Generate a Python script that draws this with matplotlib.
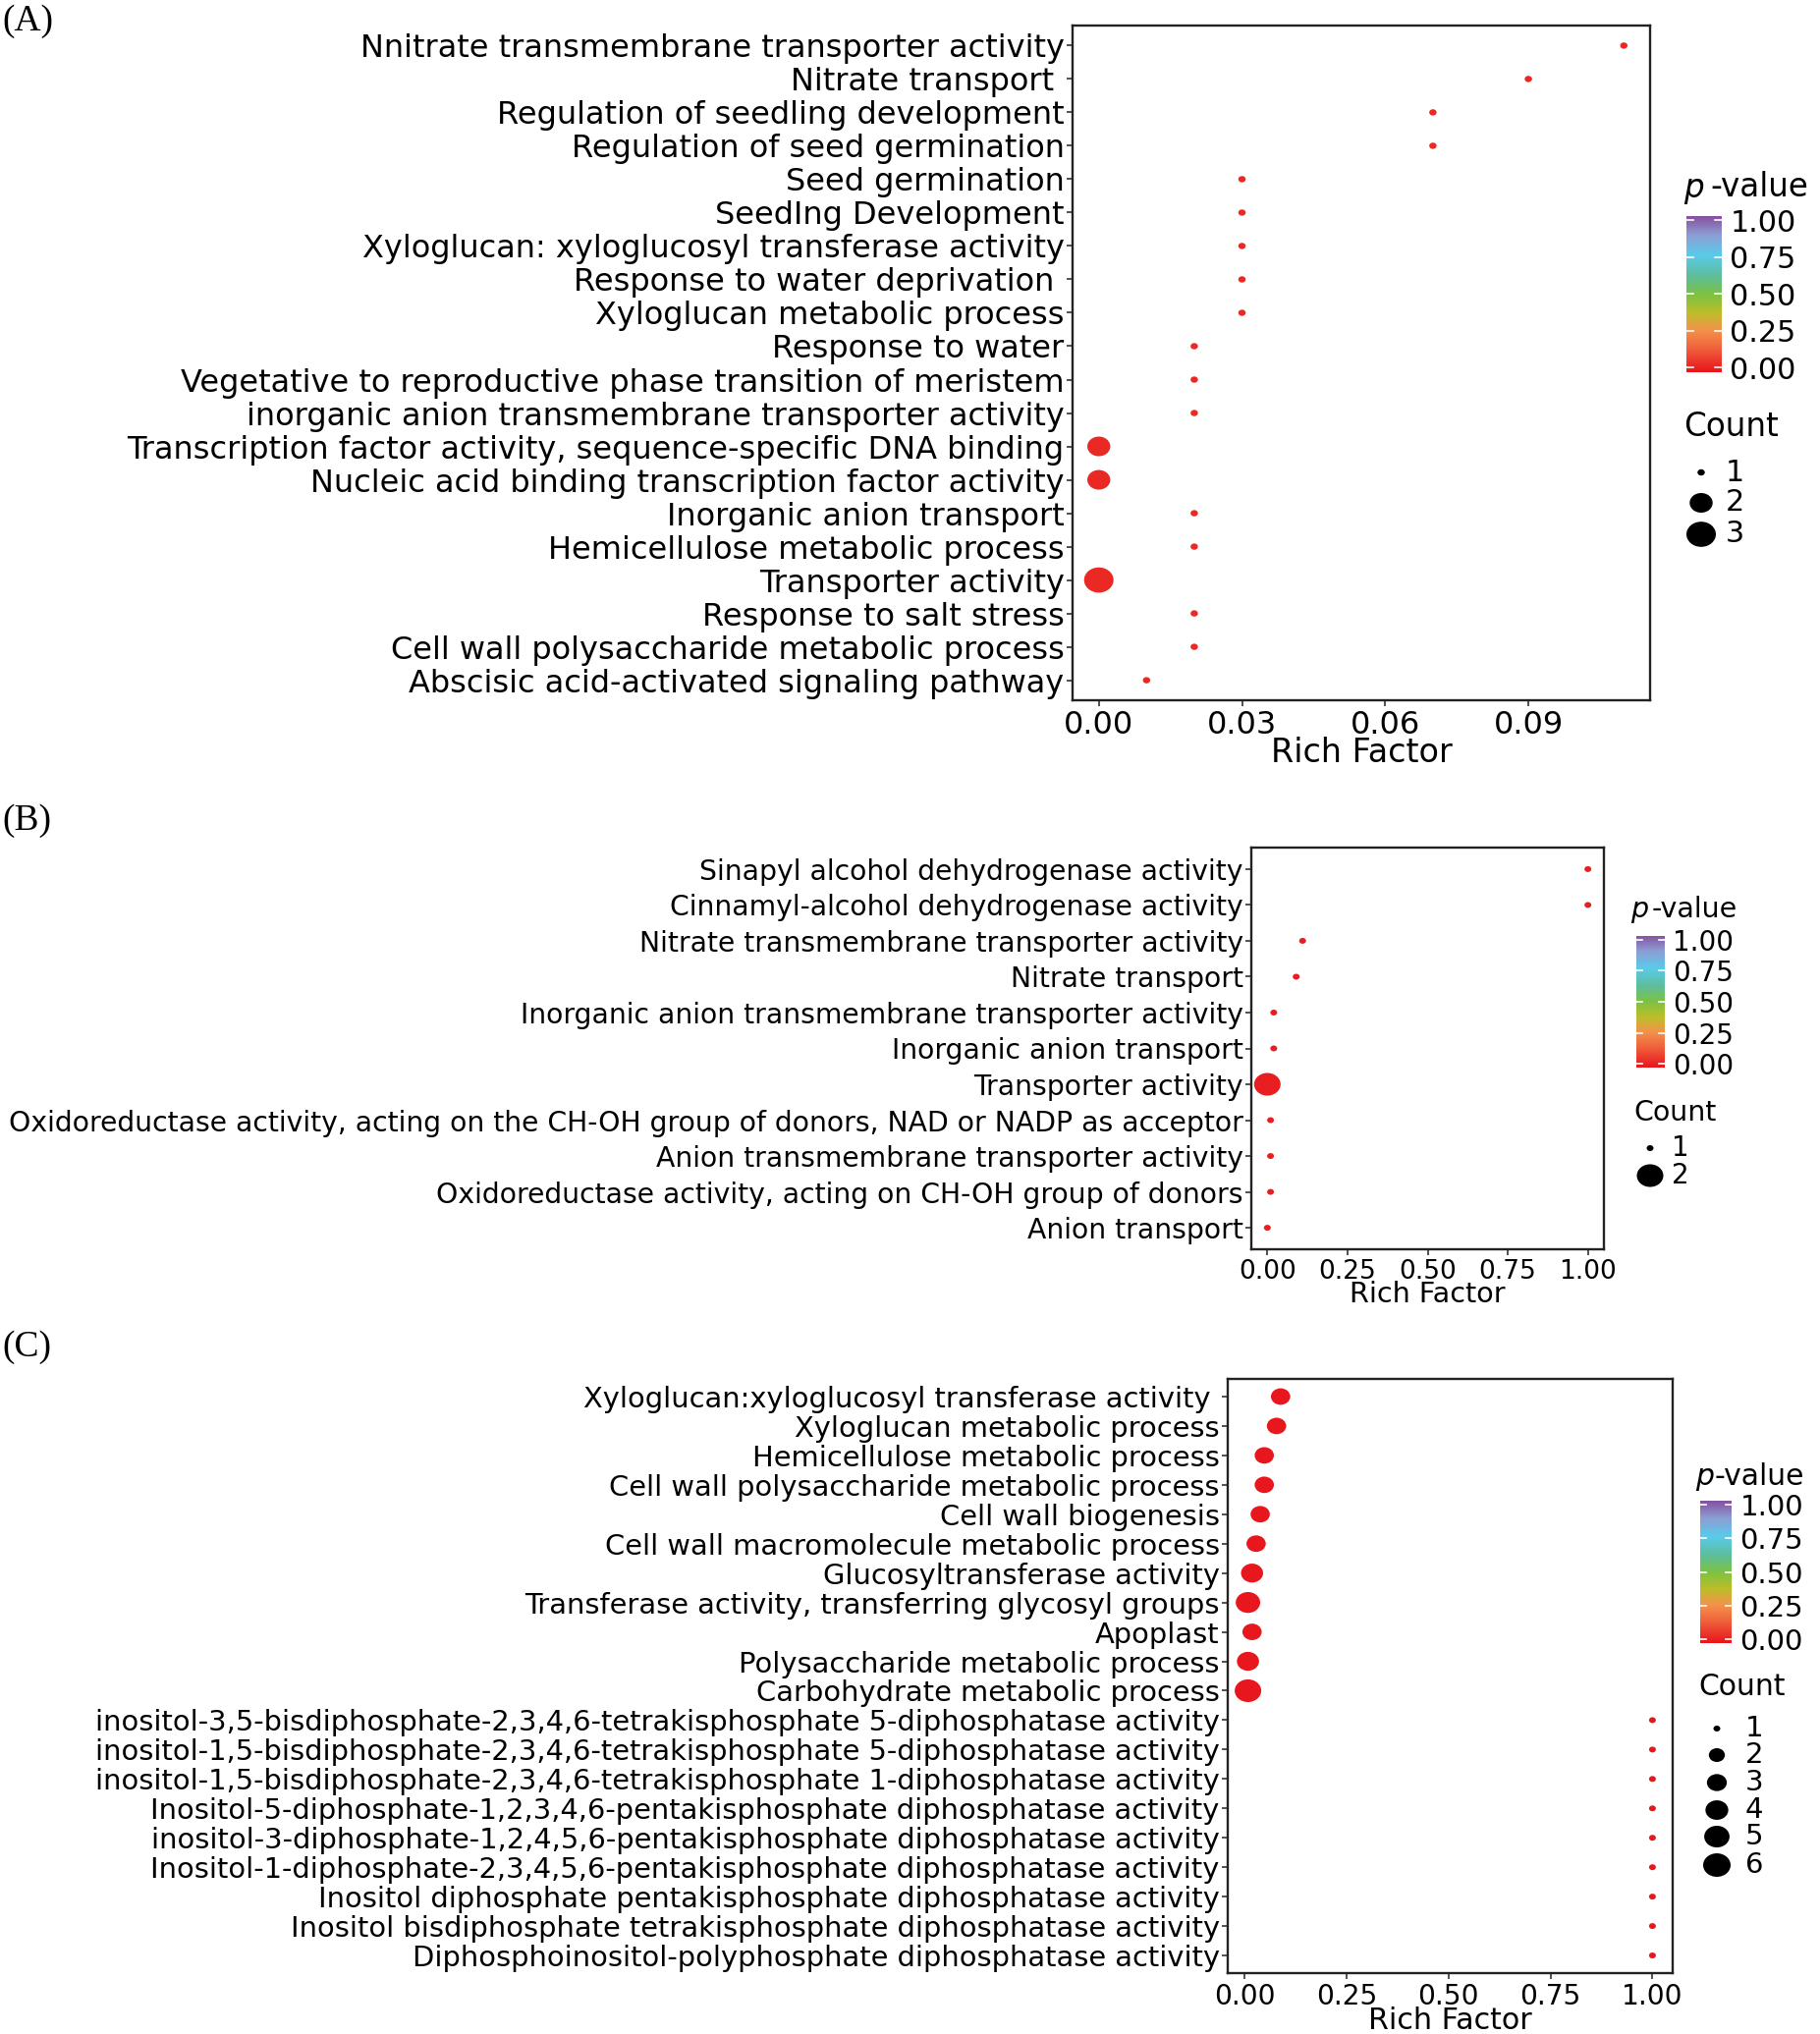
import numpy as np
import matplotlib
matplotlib.use("Agg")
import matplotlib.pyplot as plt
from matplotlib.path import Path
from matplotlib.colors import LinearSegmentedColormap

plt.rcParams['font.family'] = ['DejaVu Sans']

# ---------------- data ----------------
labels_a = ["Nnitrate transmembrane transporter activity", "Nitrate transport ",
            "Regulation of seedling development", "Regulation of seed germination",
            "Seed germination", "SeedIng Development",
            "Xyloglucan: xyloglucosyl transferase activity", "Response to water deprivation ",
            "Xyloglucan metabolic process", "Response to water",
            "Vegetative to reproductive phase transition of meristem",
            "inorganic anion transmembrane transporter activity",
            "Transcription factor activity, sequence-specific DNA binding",
            "Nucleic acid binding transcription factor activity",
            "Inorganic anion transport", "Hemicellulose metabolic process",
            "Transporter activity", "Response to salt stress",
            "Cell wall polysaccharide metabolic process",
            "Abscisic acid-activated signaling pathway"]
rich_a = [0.11, 0.09, 0.07, 0.07, 0.03, 0.03, 0.03, 0.03, 0.03, 0.02,
          0.02, 0.02, 0.0, 0.0, 0.02, 0.02, 0.0, 0.02, 0.02, 0.01]
count_a = [1, 1, 1, 1, 1, 1, 1, 1, 1, 1, 1, 1, 2, 2, 1, 1, 3, 1, 1, 1]
pval_a = [0.04, 0.04, 0.04, 0.04, 0.04, 0.04, 0.04, 0.04, 0.04, 0.04,
          0.04, 0.04, 0.04, 0.04, 0.04, 0.04, 0.04, 0.04, 0.04, 0.04]

labels_b = ["Sinapyl alcohol dehydrogenase activity", "Cinnamyl-alcohol dehydrogenase activity",
            "Nitrate transmembrane transporter activity", "Nitrate transport",
            "Inorganic anion transmembrane transporter activity", "Inorganic anion transport",
            "Transporter activity",
            "Oxidoreductase activity, acting on the CH-OH group of donors, NAD or NADP as acceptor",
            "Anion transmembrane transporter activity",
            "Oxidoreductase activity, acting on CH-OH group of donors", "Anion transport"]
rich_b = [1.0, 1.0, 0.11, 0.09, 0.02, 0.02, 0.0, 0.01, 0.01, 0.01, 0.0]
count_b = [1, 1, 1, 1, 1, 1, 2, 1, 1, 1, 1]
pval_b = [0.02, 0.02, 0.02, 0.02, 0.02, 0.02, 0.02, 0.02, 0.02, 0.02, 0.02]

labels_c = ["Xyloglucan:xyloglucosyl transferase activity ", "Xyloglucan metabolic process",
            "Hemicellulose metabolic process", "Cell wall polysaccharide metabolic process",
            "Cell wall biogenesis", "Cell wall macromolecule metabolic process",
            "Glucosyltransferase activity", "Transferase activity, transferring glycosyl groups",
            "Apoplast", "Polysaccharide metabolic process", "Carbohydrate metabolic process",
            "inositol-3,5-bisdiphosphate-2,3,4,6-tetrakisphosphate 5-diphosphatase activity",
            "inositol-1,5-bisdiphosphate-2,3,4,6-tetrakisphosphate 5-diphosphatase activity",
            "inositol-1,5-bisdiphosphate-2,3,4,6-tetrakisphosphate 1-diphosphatase activity",
            "Inositol-5-diphosphate-1,2,3,4,6-pentakisphosphate diphosphatase activity",
            "inositol-3-diphosphate-1,2,4,5,6-pentakisphosphate diphosphatase activity",
            "Inositol-1-diphosphate-2,3,4,5,6-pentakisphosphate diphosphatase activity",
            "Inositol diphosphate pentakisphosphate diphosphatase activity",
            "Inositol bisdiphosphate tetrakisphosphate diphosphatase activity",
            "Diphosphoinositol-polyphosphate diphosphatase activity"]
rich_c = [0.088, 0.078, 0.048, 0.048, 0.038, 0.028, 0.018, 0.008, 0.018, 0.008, 0.008,
          1.0, 1.0, 1.0, 1.0, 1.0, 1.0, 1.0, 1.0, 1.0]
count_c = [3, 3, 3, 3, 3, 3, 4, 5, 3, 4, 6, 1, 1, 1, 1, 1, 1, 1, 1, 1]
pval_c = [0.005] * 20

xticks_a = [0.0, 0.03, 0.06, 0.09]
xticks_b = [0.0, 0.25, 0.5, 0.75, 1.0]
xticks_c = [0.0, 0.25, 0.5, 0.75, 1.0]
cbar_ticks = [0.0, 0.25, 0.5, 0.75, 1.0]

# ---------------- styling ----------------
W, H = 1853, 2071
fig = plt.figure(figsize=(W / 100, H / 100), dpi=100)

cmap = LinearSegmentedColormap.from_list("pv", [
    (0.0, '#E8141C'), (0.15, '#F0603C'), (0.27, '#F4934A'), (0.38, '#BDBE2A'),
    (0.5, '#7CC242'), (0.62, '#5DBE9E'), (0.75, '#5ACBEA'), (0.88, '#8C9ED4'),
    (1.0, '#8650A0')])

# the original figure is slightly stretched sideways, so the dots are ellipses
circ = Path.unit_circle()
ellipse = Path(circ.vertices * np.array([1.17, 1.0]), circ.codes)


def sizes(counts, dmin, dmax):
    c = np.array(counts, float)
    cmin, cmax = 1, max(counts)
    d = dmin + (dmax - dmin) * np.sqrt((c - cmin) / (cmax - cmin))
    return (d * 0.72) ** 2


def rect(l, t, r, b):
    return [l / W, 1 - b / H, (r - l) / W, (b - t) / H]


def panel(box, labels, rich, counts, pvals, xticks, fs, tfs, xfs, dmin, dmax):
    ax = fig.add_axes(rect(*box))
    y = np.arange(len(labels))[::-1]
    ax.scatter(rich, y, s=sizes(counts, dmin, dmax), c=pvals, cmap=cmap,
               vmin=0, vmax=1, marker=ellipse, linewidths=0, zorder=3)
    lo, hi = min(rich), max(rich)
    pad = (hi - lo) * 0.05
    ax.set_xlim(lo - pad, hi + pad)
    ax.set_ylim(-0.6, len(labels) - 0.4)
    ax.set_yticks(y)
    ax.set_yticklabels(labels, fontsize=fs)
    ax.set_xticks(xticks)
    ax.set_xticklabels(["{:.2f}".format(v) for v in xticks], fontsize=tfs)
    ax.set_xlabel("Rich Factor", fontsize=xfs, labelpad=-3)
    ax.tick_params(length=4, width=1.2, color='#333333', pad=2)
    ax.tick_params(axis='x', pad=3)
    for sp in ax.spines.values():
        sp.set_linewidth(1.7)
        sp.set_color('#222222')
    return ax


def cbar(box, fs):
    cax = fig.add_axes(rect(*box))
    grad = np.linspace(0, 1, 256).reshape(-1, 1)
    cax.imshow(grad, cmap=cmap, aspect='auto', origin='lower',
               extent=[0, 1, -0.03, 1.03])
    for t in cbar_ticks:
        cax.plot([0, 0.2], [t, t], color='white', lw=1.2)
        cax.plot([0.8, 1], [t, t], color='white', lw=1.2)
    cax.set_xlim(0, 1)
    cax.set_ylim(-0.03, 1.03)
    cax.set_xticks([])
    cax.yaxis.tick_right()
    cax.set_yticks(cbar_ticks)
    cax.set_yticklabels(["{:.2f}".format(t) for t in cbar_ticks], fontsize=fs)
    cax.tick_params(length=0, pad=6)
    for sp in cax.spines.values():
        sp.set_visible(False)


# overlay in pixel coordinates for titles / size legends
ov = fig.add_axes([0, 0, 1, 1])
ov.set_xlim(0, W)
ov.set_ylim(H, 0)
ov.axis('off')


def size_legend(x, ys, tx, counts, dmin, dmax, fs):
    ov.scatter([x] * len(counts), ys, s=sizes(counts, dmin, dmax), c='black',
               marker=ellipse, linewidths=0)
    for yy, c in zip(ys, counts):
        ov.text(tx, yy, str(c), fontsize=fs, va='center', ha='left')


def ptitle(x, y, fs, gap):
    ov.text(x, y, "p", fontsize=fs, va='center', ha='left', fontstyle='italic')
    ov.text(x + fs * gap, y, "-value", fontsize=fs, va='center', ha='left')


# ---- (A)
panel((1092, 26, 1680, 713), labels_a, rich_a, count_a, pval_a, xticks_a,
      23, 23, 24, 7.5, 30)
cbar((1717, 220, 1753, 379), 21.7)
ptitle(1714, 191, 23.5, 1.15)
ov.text(1714, 435, "Count", fontsize=23.5, va='center', ha='left')
size_legend(1732, [481, 512, 544], 1757, [1, 2, 3], 7.5, 30, 21.7)
ov.text(2, 22, "(A)", fontsize=27, fontfamily='Liberation Serif', va='center', ha='left')

# ---- (B)
panel((1274, 863, 1633, 1272), labels_b, rich_b, count_b, pval_b, xticks_b,
      20.3, 19, 20.6, 7, 27)
cbar((1666, 953, 1695, 1087), 20)
ptitle(1660, 926, 20.5, 1.05)
ov.text(1663, 1133, "Count", fontsize=20.4, va='center', ha='left')
size_legend(1680, [1169, 1197], 1702, [1, 2], 7, 27, 20)
ov.text(2, 836, "(B)", fontsize=27, fontfamily='Liberation Serif', va='center', ha='left')

# ---- (C)
panel((1250, 1404, 1703, 2009), labels_c, rich_c, count_c, pval_c, xticks_c,
      20.8, 20.2, 21.7, 7, 27)
cbar((1731, 1528, 1763, 1673), 21)
ptitle(1726, 1503, 21.5, 0.9)
ov.text(1729, 1717, "Count", fontsize=21.5, va='center', ha='left')
size_legend(1748, [1760, 1787, 1815, 1843, 1870, 1899], 1777,
            [1, 2, 3, 4, 5, 6], 7, 28, 21)
ov.text(2, 1372, "(C)", fontsize=27, fontfamily='Liberation Serif', va='center', ha='left')

fig.savefig("out.png", dpi=100)
